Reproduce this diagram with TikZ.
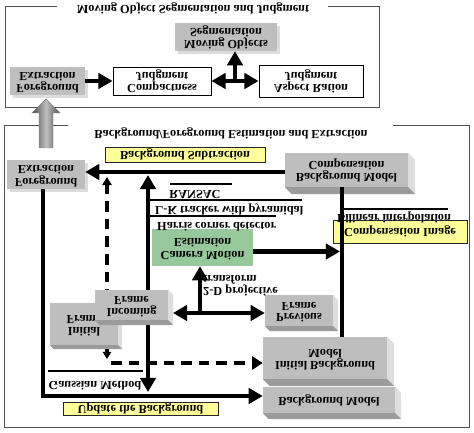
\documentclass[tikz,border=0pt]{standalone}
\usepackage{fontspec}
\setmainfont{Liberation Serif}
\usepackage{graphicx}
\usetikzlibrary{arrows.meta,calc,backgrounds}
\definecolor{boxgray}{RGB}{190,190,190}
\definecolor{sidegray}{RGB}{222,222,222}
\definecolor{botgray}{RGB}{155,155,155}
\definecolor{shadegray}{RGB}{220,220,220}
\definecolor{noteyel}{RGB}{255,255,153}
\definecolor{camgreen}{RGB}{150,200,155}
\definecolor{frameline}{RGB}{80,80,80}
\newcommand{\bxfont}{\fontsize{10.5}{10}\selectfont\bfseries}
\newcommand{\flip}[1]{\scalebox{1}[-1]{\begin{tabular}{@{}c@{}}#1\end{tabular}}}
\newcommand{\flipl}[1]{\scalebox{1}[-1]{\begin{tabular}{@{}l@{}}#1\end{tabular}}}
\newcommand{\boxside}[2]{%
  \fill[sidegray] (#1.north east) -- ++(#2,#2) -- ($(#1.south east)+(#2,#2)$) -- (#1.south east) -- cycle;
  \fill[botgray] (#1.south west) -- ++(#2,#2) -- ($(#1.south east)+(#2,#2)$) -- (#1.south east) -- cycle;}
\newcommand{\boxshadow}[1]{%
  \fill[shadegray] ($(#1.north west)+(3,3)$) rectangle ($(#1.south east)+(3,3)$);}
\tikzset{
  sz/.style 2 args={minimum width=#1*0.03cm, minimum height=#2*0.03cm},
  gbox/.style={fill=boxgray, inner sep=0pt, font=\bxfont},
  wbox/.style={draw=black, line width=0.8pt, fill=white, inner sep=0pt, font=\bxfont},
  ybox/.style={draw=black!85, line width=0.7pt, fill=noteyel, inner sep=0pt, font=\bxfont},
  cbox/.style={fill=camgreen, inner sep=0pt, font=\bxfont},
  lbl/.style={inner sep=0pt, font=\bxfont},
  ttl/.style={inner sep=0pt, font=\bxfont},
  frm/.style={draw=frameline, line width=0.8pt},
  fat/.style={line width=4pt, -{Triangle[length=12pt,width=13pt]}},
  fatboth/.style={line width=4pt, {Triangle[length=12pt,width=13pt]}-{Triangle[length=12pt,width=13pt]}},
  fatline/.style={line width=4pt},
  rul/.style={line width=1.8pt},
  dsh/.style={line width=2.8pt, dash pattern=on 9pt off 6pt},
}
\begin{document}
\begin{tikzpicture}[x=0.03cm,y=-0.03cm]
  \useasboundingbox (0,0) rectangle (474,433);

  % moving object part
  \draw[frm] (57,6) -- (5,6) -- (5,107) -- (379,107) -- (379,6) -- (328,6);
  \node[ttl] (ttlup) at (193,8) {\flip{Moving Object Segmentation and Judgment}};
  \node[gbox,sz={75}{28}] (fgup) at (47.5,81) {\flip{Foreground\\Extraction}};
  \node[gbox,sz={102}{28}] (movobj) at (226,37) {\flip{Moving Objects\\Segmentation}};
  \node[wbox,sz={98}{28}] (compact) at (162,81) {\flip{Compactness\\Judgment}};
  \node[wbox,sz={104}{32}] (aspect) at (311,81) {\flip{Aspect Ration\\Judgment}};
  \begin{pgfonlayer}{background}
    \boxshadow{fgup}
    \boxshadow{movobj}
  \end{pgfonlayer}
  \draw[fat] (fgup) -- (compact);
  \draw[fatboth] (compact) -- (aspect);
  \coordinate (jmid) at ($(compact.east)!0.5!(aspect.west)$);
  \draw[fat] (jmid) -- (jmid |- movobj.south);

  % background/foreground part
  \draw[frm] (68,125) -- (4,125) -- (4,427) -- (469,427) -- (469,125) -- (393,125);
  \node[ttl] (ttllow) at (231,133) {\flip{Background/Foreground Estimation and Extraction}};
  \node[gbox,sz={78}{29}] (fglow) at (46,174.5) {\flip{Foreground\\Extraction}};
  \node[ybox,sz={160}{15}] (bgsub) at (185,154.5) {\flip{Background Subtraction}};
  \node[gbox,sz={123}{34}] (bgcomp) at (346.5,170) {\flip{Background Model\\Compensation}};
  \boxside{bgcomp}{7}
  \node[ybox,sz={134}{23}] (compimg) at (400,231.5) {\flip{Compensation Image}};
  \node[cbox,sz={101}{37}] (camera) at (202.5,247.5) {\flip{Camera Motion\\Estimation}};
  \node[gbox,sz={68}{42}] (initfr) at (84,324) {\flip{Initial\\Frame}\hspace{0.6cm}};
  \boxside{initfr}{4}
  \node[gbox,sz={73}{30}] (incoming) at (131.5,305) {\flip{Incoming\\Frame}};
  \boxside{incoming}{5}
  \node[gbox,sz={68}{31}] (prevfr) at (299,310.5) {\flip{Previous\\Frame}};
  \boxside{prevfr}{5}
  \node[gbox,sz={124}{42}] (initbg) at (325,358) {\flip{Initial Background\\Model}};
  \boxside{initbg}{7}
  \node[gbox,sz={132}{26}] (bgmodel) at (329,400) {\flip{Background Model}};
  \boxside{bgmodel}{6}
  \node[ybox,sz={155}{13}] (upd) at (140.5,408.5) {\flip{Update the Background}};

  % labels
  \node[lbl] (bilin) at (394,217) {\flip{Bilinear interpolation}};
  \node[lbl] (ransac) at (195,193) {\flip{RANSAC}};
  \node[lbl,anchor=west] (lktr) at (155,209) {\flip{L-K tracker with pyramidal}};
  \node[lbl,anchor=west] (harris) at (157,225) {\flip{Harris corner detector}};
  \node[lbl,anchor=west] (proj) at (203,284) {\flipl{2-D projective\\transform}};
  \node[lbl] (gauss) at (95,384) {\flip{Gaussian Method}};

  \coordinate (cx) at (342,0);
  \coordinate (vx) at (148,0);
  \coordinate (vtop) at (148,175);
  \coordinate (vbot) at (148,392);
  \coordinate (hy) at (0,172);
  \coordinate (pl) at (173,313);
  \coordinate (pm) at (200,313);
  \coordinate (lx) at (43,0);
  \coordinate (dtop) at (107,177);
  \coordinate (dbot) at (107,359);
  \coordinate (dl) at (111,363);

  \begin{pgfonlayer}{background}
    \boxshadow{fglow}
    \draw[fat] (incoming.north -| vx) -- (vtop);
    \draw[fat] (incoming.south -| vx) -- (vbot);
    \draw[dsh,{Triangle[length=6pt,width=7pt]}-{Triangle[length=7pt,width=8pt]}] (dbot) -- (dtop);
    \draw[dsh,-{Triangle[length=9pt,width=11pt]}] (dl) -- (initbg.west |- dl);
  \end{pgfonlayer}

  \draw[fat] (bgcomp.west |- hy) -- (fglow.east |- hy);
  \draw[fatline] (bgcomp.south -| cx) -- (initbg.north -| cx);
  \draw[fat] ($(camera.east)+(0,4)$) -- ($(camera.east -| cx)+(-2,4)$);
  \draw[fatboth] (pl) -- (prevfr.west |- pl);
  \draw[fat] (pm) -- (pm |- camera.south);
  \draw[fat] (fglow.south -| lx) |- ($(bgmodel.west)+(0,-4)$);

  % rules over the labels
  \draw[rul] (cx |- 0,209) -- (448,209);
  \draw[rul] (170,184) -- (232,184);
  \draw[rul] (vx |- 0,200) -- (302,200);
  \draw[rul] (vx |- 0,216) -- (276,216);
  \draw[rul] (48,371) -- (143,371);

  % arrow between the two parts
  \shade[draw=black!50, line width=0.4pt, left color=black!70, right color=black!70, middle color=black!25]
    (39,148) -- (39,113) -- (32,113) -- (46,99) -- (60,113) -- (53,113) -- (53,148) -- cycle;
\end{tikzpicture}
\end{document}
